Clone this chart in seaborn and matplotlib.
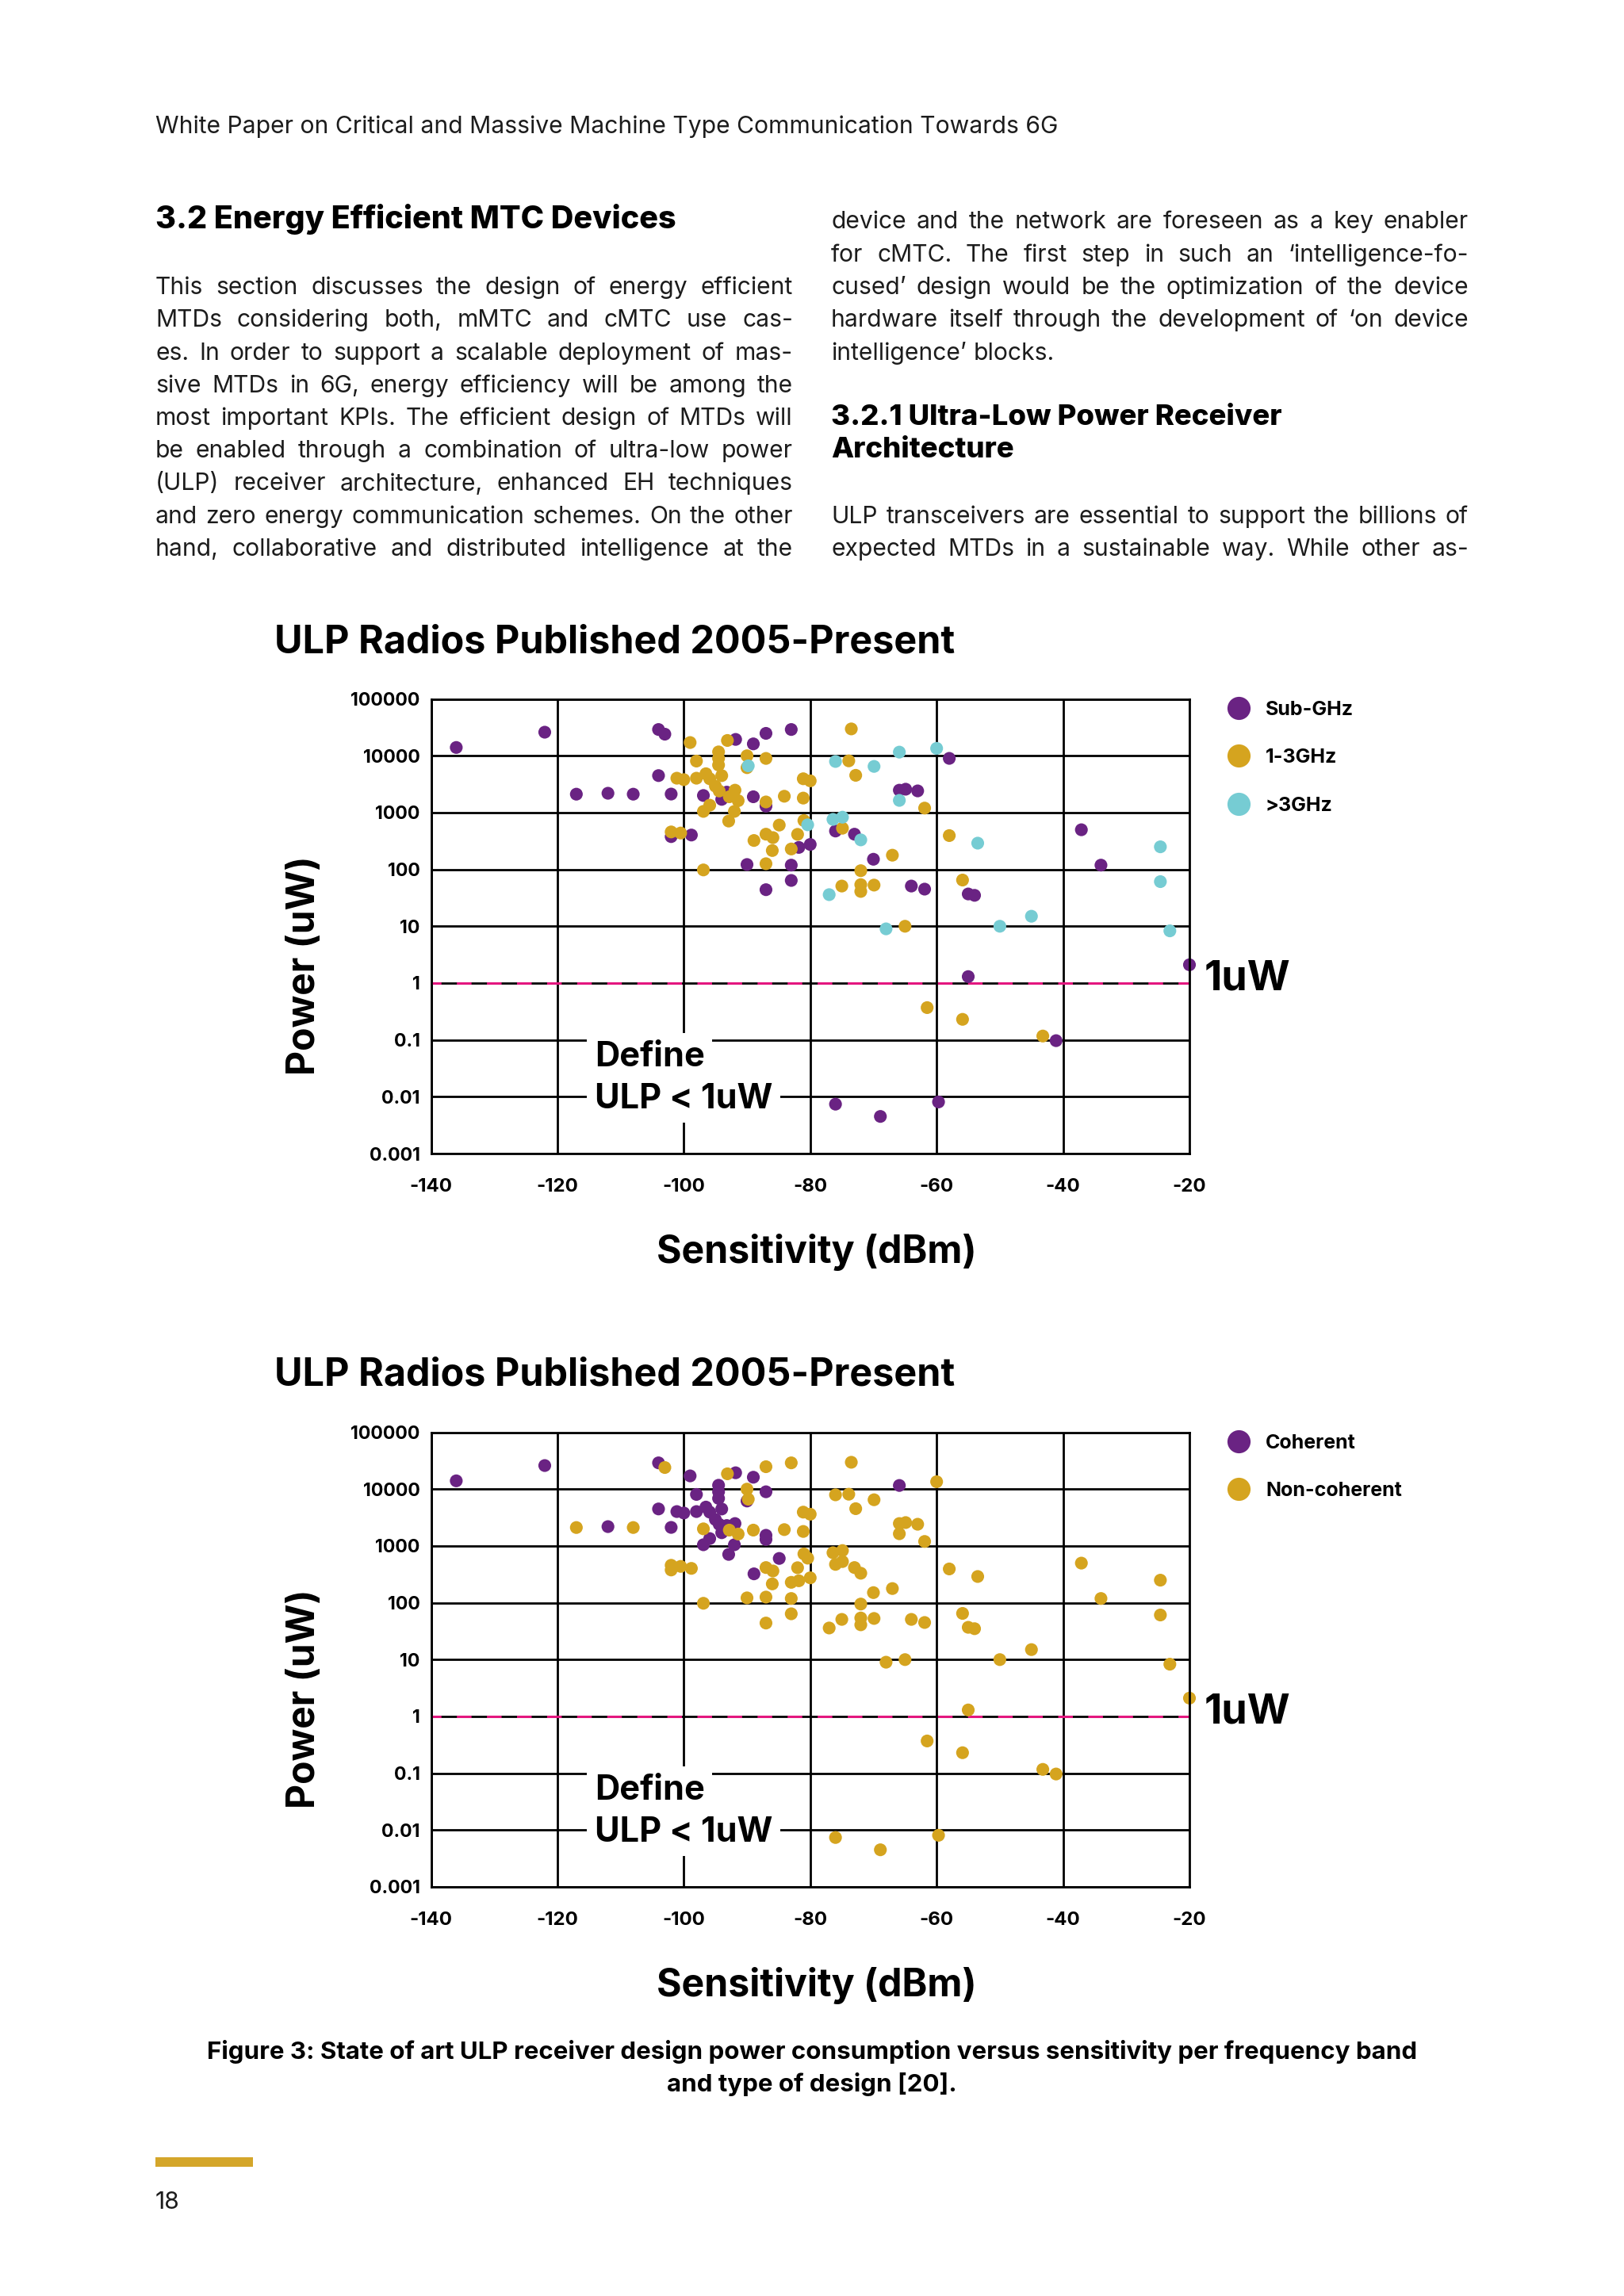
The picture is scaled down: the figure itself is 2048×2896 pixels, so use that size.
import numpy as np
import pandas as pd
import matplotlib
matplotlib.use("Agg")
import matplotlib.pyplot as plt
import seaborn as sns
from matplotlib.lines import Line2D
from matplotlib.patches import Rectangle
from matplotlib.ticker import FixedLocator, FixedFormatter, NullLocator

# ---------------- data ----------------
sensitivity_dbm = [
    -136, -122, -104, -103, -91.8, -89, -87, -83, -104, -117,
    -112, -108, -102, -96.9, -94, -93.2, -89, -87, -102, -98.8,
    -81.8, -80, -90, -83, -83, -87, -58, -65.9, -64.9, -63,
    -76, -73, -70, -64, -61.9, -55, -54, -37.1, -34, -55,
    -20, -41.1, -76, -68.9, -59.7,
    -99, -93.1, -94.5, -94.5, -94.5, -98, -90, -87, -90, -101.1,
    -100, -98, -96.5, -95.9, -94, -95, -94.4, -91.9, -92.8, -91.4,
    -95.9, -96.9, -92, -87, -84.1, -81.1, -80, -81.1, -92.9, -81,
    -84.9, -82, -87, -85.9, -88.9, -86, -83, -87, -102, -100.5,
    -96.9, -73.5, -73.9, -72.8, -61.9, -74.9, -58, -67, -72, -75,
    -72, -72, -69.9, -55.9, -65, -61.5, -55.9, -43.2,
    -89.8, -80.4, -65.9, -60, -76, -69.9, -65.9, -76.4, -74.9, -72,
    -53.5, -24.6, -24.6, -77, -68, -50, -45, -23.1,
]
power_uw = [
    14000, 26000, 29000, 24000, 19400, 16200, 24800, 29000, 4480, 2110,
    2190, 2110, 2120, 2000, 1710, 2290, 1900, 1300, 378, 403,
    244, 275, 122, 119, 64, 44, 9000, 2480, 2580, 2410,
    474, 417, 151, 51, 45, 37, 35, 499, 119, 1.3,
    2.1, 0.097, 0.0074, 0.0045, 0.0081,
    17100, 18600, 11700, 8980, 6870, 8070, 10000, 8980, 6180, 4030,
    3800, 4030, 4830, 3940, 4470, 2920, 2400, 2480, 1900, 1620,
    1350, 1050, 1050, 1540, 1940, 3940, 3620, 1800, 710, 725,
    603, 414, 417, 363, 323, 215, 229, 126, 457, 437,
    98, 29700, 8140, 4530, 1200, 531, 394, 178, 95, 51,
    54, 41, 53, 65, 10, 0.37, 0.23, 0.117,
    6650, 610, 11600, 13500, 7940, 6500, 1640, 760, 830, 331,
    290, 250, 61, 36, 9, 10, 15, 8.3,
]
band_code = list(
    "SSSSSSSSSS" "SSSSSSSSSS" "SSSSSSSSSS" "SSSSSSSSSS" "SSSSS"
    "MMMMMMMMMM" "MMMMMMMMMM" "MMMMMMMMMM" "MMMMMMMMMM" "MMMMMMMMMM" "MMMMMMMM"
    "HHHHHHHHHH" "HHHHHHHH"
)
design_code = list(
    "CCCNCCNNCN" "CNCNCCNCNN" "NNNNNN-NNN" "NNNNNNNNNN" "NNNNN"
    "CNCCCCNCCC" "CCCCCCCCNN" "CCCCNNNNCN" "CNNNCNNNNN" "NNNNNNNNNN" "NNNNNNNN"
    "NNCNNNNNNN" "NNNNNNNN"
)
band_names = {"S": "Sub-GHz", "M": "1-3GHz", "H": ">3GHz"}
design_names = {"C": "Coherent", "N": "Non-coherent", "-": ""}
band_order = ["Sub-GHz", "1-3GHz", ">3GHz"]
design_order = ["Coherent", "Non-coherent"]
band_colors = ["#6A2383", "#D5A41F", "#76CCD3"]
design_colors = ["#6A2383", "#D5A41F"]

y_ticks = [0.001, 0.01, 0.1, 1, 10, 100, 1000, 10000, 100000]
y_tick_labels = ["0.001", "0.01", "0.1", "1", "10", "100", "1000", "10000", "100000"]
x_ticks = [-140, -120, -100, -80, -60, -40, -20]
x_tick_labels = ["-140", "-120", "-100", "-80", "-60", "-40", "-20"]

chart_title = "ULP Radios Published 2005-Present"
x_label = "Sensitivity (dBm)"
y_label = "Power (uW)"
header = "White Paper on Critical and Massive Machine Type Communication Towards 6G"
heading1 = "3.2 Energy Efficient MTC Devices"
heading2 = ["3.2.1 Ultra-Low Power Receiver", "Architecture"]
left_col = [
    "This section discusses the design of energy efficient",
    "MTDs considering both, mMTC and cMTC use cas-",
    "es. In order to support a scalable deployment of mas-",
    "sive MTDs in 6G, energy efficiency will be among the",
    "most important KPIs. The efficient design of MTDs will",
    "be enabled through a combination of ultra-low power",
    "(ULP) receiver architecture, enhanced EH techniques",
    "and zero energy communication schemes. On the other",
    "hand, collaborative and distributed intelligence at the",
]
right_col_a = [
    "device and the network are foreseen as a key enabler",
    "for cMTC. The first step in such an \u2018intelligence-fo-",
    "cused\u2019 design would be the optimization of the device",
    "hardware itself through the development of \u2018on device",
    "intelligence\u2019 blocks.",
]
right_col_b = [
    "ULP transceivers are essential to support the billions of",
    "expected MTDs in a sustainable way. While other as-",
]
caption = [
    "Figure 3: State of art ULP receiver design power consumption versus sensitivity per frequency band",
    "and type of design [20].",
]

df = pd.DataFrame({
    "sensitivity_dbm": sensitivity_dbm,
    "power_uw": power_uw,
    "band": [band_names[c] for c in band_code],
    "design": [design_names[c] for c in design_code],
})
df1 = df.copy()
df1["band"] = pd.Categorical(df1["band"], band_order, ordered=True)
df1 = df1.sort_values("band", kind="mergesort")
df2 = df[df["design"] != ""].copy()
df2["design"] = pd.Categorical(df2["design"], design_order, ordered=True)
df2 = df2.sort_values("design", kind="mergesort")

# ---------------- figure ----------------
sns.set_theme(style="white")
plt.rcParams["font.family"] = ["Inter", "DejaVu Sans"]
plt.rcParams["lines.scale_dashes"] = False

W, H = 2048, 2896
fig = plt.figure(figsize=(W / 100, H / 100), dpi=100)
fig.patch.set_facecolor("white")
renderer = fig.canvas.get_renderer()
BODY = "#1c1c1c"


def fx(x):
    return x / W


def fy(y):
    return 1 - y / H


def text_w(s, size, weight="normal"):
    t = fig.text(0, 0, s, fontsize=size, fontweight=weight)
    w = t.get_window_extent(renderer=renderer).width
    t.remove()
    return w


def fit(s, target, weight="normal"):
    return 20 * target / text_w(s, 20, weight)


def put_line(line, x0, x1, y, size, justify=True, weight="normal", color=BODY):
    words = line.split(" ")
    widths = [text_w(w, size, weight) for w in words]
    space = text_w("a a", size, weight) - text_w("aa", size, weight)
    if justify and len(words) > 1:
        gap = max((x1 - x0 - sum(widths)) / (len(words) - 1), space * 0.6)
    else:
        gap = space
    x = x0
    for w, wd in zip(words, widths):
        fig.text(fx(x), fy(y), w, fontsize=size, fontweight=weight,
                 ha="left", va="baseline", color=color)
        x += wd + gap


# header + text
HEAD_W = "heavy"
body_size = fit(header, 1137)
fig.text(fx(196), fy(168), header, fontsize=body_size, ha="left", va="baseline", color=BODY)
head_size = fit(heading1, 657, HEAD_W)
fig.text(fx(196), fy(288), heading1, fontsize=head_size, fontweight=HEAD_W,
         ha="left", va="baseline", color="black")
head2_size = fit(heading2[0], 570, HEAD_W)

LX0, LX1, RX0, RX1 = 196, 1000, 1048, 1852
base0, lh = 371, 41.25
for i, line in enumerate(left_col):
    put_line(line, LX0, LX1, base0 + lh * i, body_size)
for i, line in enumerate(right_col_a):
    put_line(line, RX0, RX1, base0 - 2 * lh + lh * i, body_size,
             justify=(i < len(right_col_a) - 1))
for i, line in enumerate(heading2):
    fig.text(fx(RX0), fy(536 + lh * i), line, fontsize=head2_size, fontweight=HEAD_W,
             ha="left", va="baseline", color="black")
for i, line in enumerate(right_col_b):
    put_line(line, RX0, RX1, base0 + lh * 7 + lh * i, body_size)

# chart sizes
title_size = fit(chart_title, 860, "bold")
xlabel_size = fit(x_label, 404, "bold")
ylabel_size = fit(y_label, 277, "bold")
ytick_size = fit("100000", 88, "bold")
xtick_size = fit("-140", 54, "bold")
define_size = fit("ULP < 1uW", 225, "bold")
uw_size = fit("1uW", 109, "bold")
leg_size = 18

AX_L, AX_R, AX_H = 543.5, 1500, 573.4
GRID_LW = 2.0


def draw_chart(top, data, hue, order, colors):
    ax = fig.add_axes([fx(AX_L), fy(top + AX_H), (AX_R - AX_L) / W, AX_H / H])
    sns.scatterplot(data=data, x="sensitivity_dbm", y="power_uw", hue=hue,
                    hue_order=order, palette=colors, s=135, linewidth=0,
                    legend=False, ax=ax, clip_on=False, zorder=2)
    ax.set_yscale("log")
    ax.set_xlim(-140, -20)
    ax.set_ylim(1e-3, 1e5)
    ax.yaxis.set_major_locator(FixedLocator(y_ticks))
    ax.yaxis.set_major_formatter(FixedFormatter(y_tick_labels))
    ax.yaxis.set_minor_locator(NullLocator())
    ax.xaxis.set_major_locator(FixedLocator(x_ticks))
    ax.xaxis.set_major_formatter(FixedFormatter(x_tick_labels))
    ax.set_xlabel("")
    ax.set_ylabel("")
    ax.grid(True, color="black", linewidth=GRID_LW)
    ax.set_axisbelow(True)
    ax.tick_params(axis="both", length=0)
    ax.tick_params(axis="y", pad=10, labelsize=ytick_size)
    ax.tick_params(axis="x", pad=22, labelsize=xtick_size)
    for lab in ax.get_xticklabels() + ax.get_yticklabels():
        lab.set_fontweight("bold")
        lab.set_color("black")
    for sp in ax.spines.values():
        sp.set_color("black")
        sp.set_linewidth(GRID_LW)
    ax.set_facecolor("white")
    ax.axhline(1, color="#E3177F", linewidth=2.2,
               linestyle=(4.5, (13.3, 14.0)), zorder=1.5)
    box = dict(boxstyle="square,pad=0.22", fc="white", ec="none")
    ax.text(-114.1, 10 ** -1.30, "Define", fontsize=define_size, fontweight="bold",
            ha="left", va="center", bbox=box, zorder=3, color="black")
    ax.text(-114.1, 10 ** -2.04, "ULP < 1uW", fontsize=define_size, fontweight="bold",
            ha="left", va="center", bbox=box, zorder=3, color="black")
    # titles and labels
    fig.text(fx(346), fy(top - 58.6), chart_title, fontsize=title_size, fontweight="bold",
             ha="left", va="baseline", color="black")
    fig.text(fx(1030), fy(top + 698), x_label, fontsize=xlabel_size, fontweight="bold",
             ha="center", va="center", color="black")
    fig.text(fx(384), fy(top + 336), y_label, fontsize=ylabel_size, fontweight="bold",
             rotation=90, ha="center", va="center", color="black")
    fig.text(fx(1519), fy(top + 353), "1uW", fontsize=uw_size, fontweight="bold",
             ha="left", va="center", color="black")
    handles = [Line2D([], [], marker="o", ls="", markersize=21, markerfacecolor=c,
                      markeredgewidth=0) for c in colors]
    leg = ax.legend(handles, order, loc="upper left",
                    bbox_to_anchor=(fx(1547), fy(top + 2)), bbox_transform=fig.transFigure,
                    frameon=False, borderpad=0, borderaxespad=0, handlelength=1.2,
                    handletextpad=0.76, labelspacing=1.5,
                    prop=dict(size=leg_size, weight="bold"))
    for t in leg.get_texts():
        t.set_color("black")
    return ax


draw_chart(881.6, df1, "band", band_order, band_colors)
draw_chart(1806.6, df2, "design", design_order, design_colors)

# caption
cap_size = fit(caption[0], 1528, "bold")
fig.text(fx(1024), fy(2597), caption[0], fontsize=cap_size, fontweight="bold",
         ha="center", va="baseline", color="black")
fig.text(fx(1024), fy(2638), caption[1], fontsize=cap_size, fontweight="bold",
         ha="center", va="baseline", color="black")

# footer
fig.add_artist(Rectangle((fx(196), fy(2733)), 123 / W, 12 / H, transform=fig.transFigure,
                         facecolor="#D4A62A", edgecolor="none"))
fig.text(fx(196), fy(2786), "18", fontsize=body_size, ha="left", va="baseline", color=BODY)

fig.savefig("out.png", dpi=100, facecolor="white")
